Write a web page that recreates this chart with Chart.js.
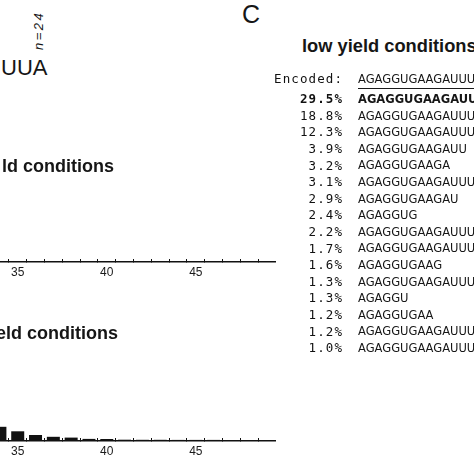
<!DOCTYPE html>
<html>
<head>
<meta charset="utf-8">
<script src="https://cdn.jsdelivr.net/npm/chart.js@4.4.1/dist/chart.umd.min.js"></script>
<style>
  html, body { margin: 0; padding: 0; background: #fff; }
  #fig { position: relative; width: 474px; height: 474px; overflow: hidden; color: #161616;
         font-family: "Liberation Sans", Arial, sans-serif; }
  .t { position: absolute; white-space: nowrap; }
  .panel { position: absolute; left: -9px; width: 285px; height: 120px; }
  .pct { font-family: "DejaVu Sans Mono", monospace; letter-spacing: 1.1px; text-align: right;
         left: 250px; width: 93.1px; color: #111; }
  .seq { font-family: "DejaVu Sans", sans-serif; left: 358px; }
  .bold { font-weight: bold; }
</style>
</head>
<body>
<div id="fig">
  <div class="panel" style="top:162px"><canvas id="topChart"></canvas></div>
  <div class="panel" style="top:341px"><canvas id="bottomChart"></canvas></div>
</div>
<script>
'use strict';
// read lengths (nt) shown on the visible part of the histograms
let lengths = [34, 35, 36, 37, 38, 39, 40, 41, 42, 43, 44, 45, 46, 47, 48, 49];
let tickLabels = [35, 40, 45];
// % of reads per length, upper panel shows nothing in this range
let topValues = [0, 0, 0, 0, 0, 0, 0, 0, 0, 0, 0, 0, 0, 0, 0, 0];
let bottomValues = [1.42, 0.97, 0.6, 0.42, 0.34, 0.21, 0.2, 0.13, 0.12, 0.12, 0.11, 0.11, 0.11, 0.1, 0.1, 0.1];
let yMax = 10;

// right hand table of sequences
let encodedSeq = 'AGAGGUGAAGAUUUA';
let percents = ['29.5%', '18.8%', '12.3%', '3.9%', '3.2%', '3.1%', '2.9%', '2.4%',
  '2.2%', '1.7%', '1.6%', '1.3%', '1.3%', '1.2%', '1.2%', '1.0%'];
let sequences = ['AGAGGUGAAGAUUUA', 'AGAGGUGAAGAUUUA', 'AGAGGUGAAGAUUUA', 'AGAGGUGAAGAUU',
  'AGAGGUGAAGA', 'AGAGGUGAAGAUUUA', 'AGAGGUGAAGAU', 'AGAGGUG', 'AGAGGUGAAGAUUUA',
  'AGAGGUGAAGAUUUA', 'AGAGGUGAAG', 'AGAGGUGAAGAUUUA', 'AGAGGU', 'AGAGGUGAA',
  'AGAGGUGAAGAUUUA', 'AGAGGUGAAGAUUUA'];

let fig = document.getElementById('fig');

// put a text at a given baseline (line-height = font size, baseline sits ~0.846em down)
function addText(text, cls, left, baseline, size, extra) {
  let d = document.createElement('div');
  d.className = 't ' + cls;
  d.textContent = text;
  d.style.fontSize = size + 'px';
  d.style.lineHeight = size + 'px';
  d.style.top = (baseline - 0.846 * size) + 'px';
  if (left !== null) d.style.left = left + 'px';
  if (extra) Object.assign(d.style, extra);
  fig.appendChild(d);
  return d;
}

addText('UUA', '', 1, 76, 22);
addText('n=24', '', 32.3, 50, 13, { fontStyle: 'italic', letterSpacing: '2.5px',
  transformOrigin: '0 0', transform: 'rotate(-90deg)', top: '50px' });
addText('C', '', 242, 23, 25);
addText('ld conditions', 'bold', 2, 172, 18);
addText('eld conditions', 'bold', -4, 339, 18);
addText('low yield conditions', 'bold', 302, 52, 18.3);

addText('Encoded:', 'pct', null, 84, 12.5);
addText(encodedSeq, 'seq', null, 84, 11.5);
let underline = document.createElement('div');
underline.style.cssText = 'position:absolute;left:358px;top:88.4px;width:120px;height:1.1px;background:#1a1a1a';
fig.appendChild(underline);

for (let i = 0; i < percents.length; i++) {
  let base = 103.7 + i * 16.6;
  let extraCls = i === 0 ? ' bold' : '';
  addText(percents[i], 'pct' + extraCls, null, base, 12.5);
  addText(sequences[i], 'seq' + extraCls, null, base, 11.5);
}

function makeChart(canvas, values) {
  return new Chart(canvas, {
    type: 'bar',
    data: {
      labels: lengths,
      datasets: [{
        data: values,
        backgroundColor: '#111',
        barPercentage: 0.73,
        categoryPercentage: 1
      }]
    },
    options: {
      responsive: true,
      maintainAspectRatio: false,
      animation: false,
      layout: { padding: 0 },
      plugins: { legend: { display: false }, tooltip: { enabled: false } },
      scales: {
        x: {
          offset: true,
          grid: { offset: true, drawOnChartArea: false, drawTicks: true, tickLength: -3, color: '#111', lineWidth: 1 },
          border: { display: true, color: '#111', width: 1.5 },
          ticks: {
            autoSkip: false,
            maxRotation: 0,
            padding: 6,
            color: '#1a1a1a',
            font: { family: 'Liberation Sans', size: 12 },
            callback: function(value, index) {
              return tickLabels.includes(lengths[index]) ? String(lengths[index]) : '';
            }
          },
          afterFit: function(scale) { scale.height = 20; }
        },
        y: { display: false, min: 0, max: yMax }
      }
    }
  });
}

makeChart(document.getElementById('topChart'), topValues);
makeChart(document.getElementById('bottomChart'), bottomValues);
</script>
</body>
</html>
